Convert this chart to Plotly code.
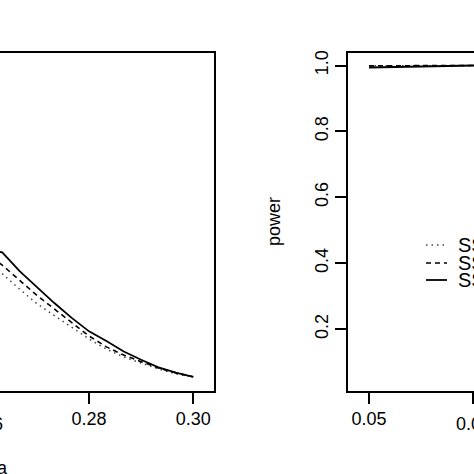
import plotly.graph_objects as go

# left panel: power against the parameter (x from 0.20 to 0.30, only the right end shows)
left_x = [0.26, 0.26333, 0.26667, 0.27, 0.27333, 0.27667, 0.28,
          0.28333, 0.28667, 0.29, 0.29333, 0.29667, 0.30]
left_solid = [0.440, 0.433, 0.376, 0.326, 0.279, 0.234, 0.193,
              0.164, 0.132, 0.107, 0.084, 0.068, 0.055]
left_dashed = [0.435, 0.394, 0.348, 0.302, 0.261, 0.219, 0.179,
               0.146, 0.121, 0.101, 0.082, 0.067, 0.055]
left_dotted = [0.410, 0.368, 0.321, 0.277, 0.241, 0.206, 0.170,
               0.139, 0.115, 0.097, 0.079, 0.064, 0.055]

# right panel: power close to 1 everywhere
right_x = [0.05, 0.0525, 0.055, 0.0575, 0.06, 0.0625, 0.065]
right_solid = [0.994, 0.996, 0.998, 0.999, 1.0, 1.0, 1.0]
right_dashed = [0.999, 1.0, 1.0, 1.0, 1.0, 1.0, 1.0]
right_dotted = [0.999, 0.999, 1.0, 1.0, 1.0, 1.0, 1.0]

legend_labels = ["SSR1", "SSR2", "SSR3"]
y_ticks = [0.2, 0.4, 0.6, 0.8, 1.0]

FONT = "Liberation Sans, Arial, Helvetica, sans-serif"
INK = "black"
W = 474
DOTTED = {"color": "#444", "width": 1.5, "dash": "1.5px,4px"}
DASHED = {"color": INK, "width": 1.6, "dash": "5px,4px"}
SOLID = {"color": INK, "width": 1.8}

fig = go.Figure()
for ys, ln in [(left_dotted, DOTTED), (left_dashed, DASHED), (left_solid, SOLID)]:
    fig.add_trace(go.Scatter(x=left_x, y=ys, mode="lines", line=ln,
                             xaxis="x", yaxis="y", showlegend=False, hoverinfo="skip"))
for ys, ln in [(right_dotted, DOTTED), (right_dashed, DASHED), (right_solid, SOLID)]:
    fig.add_trace(go.Scatter(x=right_x, y=ys, mode="lines", line=ln,
                             xaxis="x2", yaxis="y2", showlegend=False, hoverinfo="skip"))

axis_common = dict(showgrid=False, zeroline=False, linecolor=INK, linewidth=1.5,
                   tickcolor=INK, tickwidth=1.5, ticklen=11,
                   tickfont=dict(family=FONT, size=18, color=INK))

fig.update_layout(
    width=W, height=W,
    margin=dict(l=0, r=0, t=53, b=83),
    paper_bgcolor="white", plot_bgcolor="white",
    xaxis=dict(domain=[0, 214 / W], range=[0.2629, 0.3040], anchor="y",
               showline=True, mirror=True, ticks="outside",
               tick0=0.2, dtick=0.02, tickformat=".2f", **axis_common),
    yaxis=dict(range=[0.012, 1.038], anchor="x", side="right",
               showline=True, ticks="", showticklabels=False, **axis_common),
    xaxis2=dict(domain=[348 / W, 1], range=[0.04798, 0.0601], anchor="y2",
                showline=True, mirror=True, ticks="outside",
                tick0=0.05, dtick=0.01, tickformat=".2f", **axis_common),
    yaxis2=dict(range=[0.012, 1.038], anchor="x2", showline=True, ticks="outside",
                tickvals=y_ticks, tickformat=".1f", tickangle=-90, **axis_common),
)

# tick labels and axis title that run off the edges of the crop
label_font = dict(family=FONT, size=18, color=INK)
fig.add_annotation(text="0.26", xref="paper", yref="paper", x=-15 / W, y=-33 / 338,
                   xanchor="center", yanchor="middle", showarrow=False, font=label_font)
fig.add_annotation(text="0.06", xref="paper", yref="paper", x=473 / W, y=-33 / 338,
                   xanchor="center", yanchor="middle", showarrow=False, font=label_font)
fig.add_annotation(text="a", xref="paper", yref="paper", x=10 / W, y=-77 / 338,
                   xanchor="right", yanchor="middle", showarrow=False, font=label_font)
fig.add_annotation(text="power", xref="paper", yref="paper", x=274 / W, y=0.5,
                   xanchor="center", yanchor="middle", textangle=-90, showarrow=False,
                   font=label_font)

# legend drawn by hand like R's bty="n" legend
legend_rows = [245, 263, 280]
for lab, row, ln in zip(legend_labels, legend_rows, [DOTTED, DASHED, SOLID]):
    yp = (391 - row) / 338
    fig.add_shape(type="line", xref="paper", yref="paper",
                  x0=426 / W, x1=447 / W, y0=yp, y1=yp, line=ln)
    fig.add_annotation(text=lab, xref="paper", yref="paper", x=456 / W, y=yp,
                       xanchor="left", yanchor="middle", showarrow=False,
                       font=dict(family=FONT, size=20, color=INK))

# the page's default body margin would push the figure 8px right and down
fig.write_html("out.html", config={"displayModeBar": False},
               post_script="document.body.style.margin = '0';")
